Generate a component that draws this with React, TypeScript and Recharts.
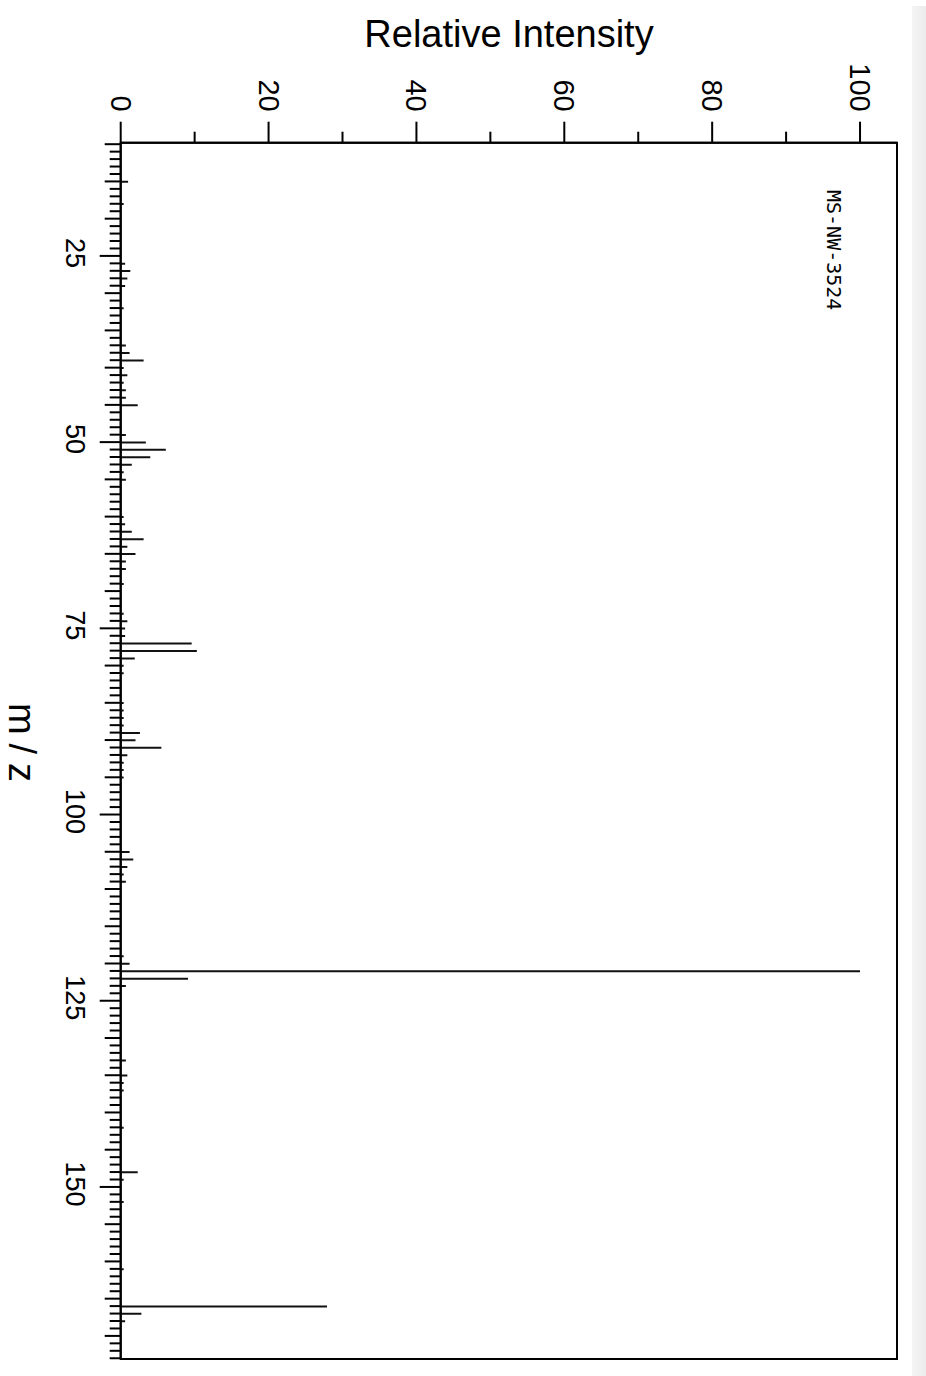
import React from 'react';
import { BarChart, Bar, XAxis, YAxis, ReferenceArea, Customized } from 'recharts';

// ---------------- DATA ----------------
const MZ = [
  15, 18, 26, 27, 28, 29, 32, 37, 38, 39, 40, 41, 42, 43, 44, 45, 49, 50, 51, 52, 53, 54, 55, 60, 61, 62, 63, 64, 65,
  66, 67, 69, 73, 74, 75, 76, 77, 78, 79, 80, 81, 85, 86, 87, 88, 89, 90, 91, 92, 93, 94, 95, 105, 106, 107, 108, 109,
  119, 120, 121, 122, 123, 133, 135, 136, 137, 142, 148, 149, 152, 161, 166, 167, 168,
];
const INTENSITY = [
  1.0, 0.4, 0.6, 1.3, 0.9, 0.6, 0.4, 0.7, 1.2, 3.1, 0.4, 0.9, 0.4, 0.7, 0.7, 2.3, 0.7, 3.4, 6.1, 4.0, 1.5, 0.4, 0.7, 0.4,
  0.6, 1.5, 3.1, 0.9, 2.0, 0.7, 0.7, 0.4, 0.4, 0.9, 0.6, 0.6, 9.6, 10.3, 1.9, 0.4, 0.4, 0.4, 0.4, 0.4, 0.4, 2.6, 2.0, 5.5,
  0.9, 0.4, 0.4, 0.4, 1.2, 1.7, 0.9, 0.4, 0.7, 0.4, 1.2, 100, 9.1, 0.7, 0.7, 0.9, 0.4, 0.4, 0.4, 2.3, 0.4, 0.4, 0.4, 27.9,
  2.8, 0.6,
];
const INTENSITY_TICKS = [0, 10, 20, 30, 40, 50, 60, 70, 80, 90, 100];
const INTENSITY_LABELS = [0, 20, 40, 60, 80, 100];
const MZ_LABELS = [25, 50, 75, 100, 125, 150];
const MZ_DOMAIN: [number, number] = [9.8, 173.1];
const INTENSITY_DOMAIN: [number, number] = [0, 105];

// one minor tick per m/z unit
const MZ_TICKS = Array.from({ length: 164 }, (_, i) => 10 + i);

const data = MZ.map((mz, i) => ({ mz, intensity: INTENSITY[i] }));

const FONT = "'Liberation Sans', Arial, sans-serif";

// ---------------- TICKS ----------------
const MzTick = ({ x, y, payload }: any) => {
  const v = payload.value;
  const len = v % 25 === 0 ? 21 : v % 5 === 0 ? 16 : 11;
  const lx = x - 45.5;
  const ly = y - 3;
  return (
    <g>
      <line x1={x - len} x2={x} y1={y} y2={y} stroke="#000" strokeWidth={2} />
      {MZ_LABELS.includes(v) && (
        <text
          x={lx}
          y={ly}
          transform={`rotate(90 ${lx} ${ly})`}
          textAnchor="middle"
          dominantBaseline="central"
          fontFamily={FONT}
          fontSize={27}
          fill="#000">
          {v}
        </text>
      )}
    </g>
  );
};

const IntensityTick = ({ x, y, payload }: any) => {
  const v = payload.value;
  const len = v % 20 === 0 ? 21 : 11;
  const ly = y - 31;
  return (
    <g>
      <line x1={x} x2={x} y1={y - len} y2={y} stroke="#000" strokeWidth={2} />
      {INTENSITY_LABELS.includes(v) && (
        <text
          x={x}
          y={ly}
          transform={`rotate(90 ${x} ${ly})`}
          textAnchor="end"
          dominantBaseline="central"
          fontFamily={FONT}
          fontSize={29}
          fill="#000">
          {v}
        </text>
      )}
    </g>
  );
};

// ---------------- TEXT ----------------
const Annotations = () => (
  <g>
    <text x={509} y={47} textAnchor="middle" fontFamily={FONT} fontSize={38} fill="#000">
      Relative Intensity
    </text>
    <text
      x={22}
      y={747}
      transform="rotate(90 22 747)"
      textAnchor="middle"
      dominantBaseline="central"
      fontFamily={FONT}
      fontSize={38}
      letterSpacing={9}
      fill="#000">
      m/z
    </text>
    <text
      x={834}
      y={190}
      transform="rotate(90 834 190)"
      textAnchor="start"
      dominantBaseline="central"
      fontFamily="'DejaVu Sans Mono', monospace"
      fontSize={20}
      fill="#000">
      MS-NW-3524
    </text>
  </g>
);

// ---------------- COMPONENT ----------------
export default function App() {
  return (
    <div style={{ position: 'absolute', left: 0, top: 0, width: 926, height: 1376, background: '#fff' }}>
      <BarChart
        width={926}
        height={1376}
        data={data}
        layout="vertical"
        margin={{ top: 0, right: 29, bottom: 17, left: 0 }}>
        <XAxis
          type="number"
          orientation="top"
          domain={INTENSITY_DOMAIN}
          ticks={INTENSITY_TICKS}
          interval={0}
          allowDataOverflow
          height={142.7}
          tickSize={0}
          tickMargin={0}
          axisLine={{ stroke: '#000', strokeWidth: 2 }}
          tick={<IntensityTick />}
        />
        <YAxis
          type="number"
          dataKey="mz"
          domain={MZ_DOMAIN}
          ticks={MZ_TICKS}
          interval={0}
          allowDataOverflow
          width={120.7}
          tickSize={0}
          tickMargin={0}
          axisLine={{ stroke: '#000', strokeWidth: 2 }}
          tick={<MzTick />}
        />
        <ReferenceArea
          x1={INTENSITY_DOMAIN[0]}
          x2={INTENSITY_DOMAIN[1]}
          y1={MZ_DOMAIN[0]}
          y2={MZ_DOMAIN[1]}
          fill="none"
          fillOpacity={0}
          stroke="#000"
          strokeWidth={2}
        />
        <Bar dataKey="intensity" fill="#111" barSize={2} isAnimationActive={false} />
        <Customized component={Annotations} />
      </BarChart>
      <div
        style={{
          position: 'absolute',
          left: 912,
          top: 6,
          width: 14,
          height: 1370,
          background: 'linear-gradient(to right, #f4f4f4, #ececec)',
        }}
      />
    </div>
  );
}
